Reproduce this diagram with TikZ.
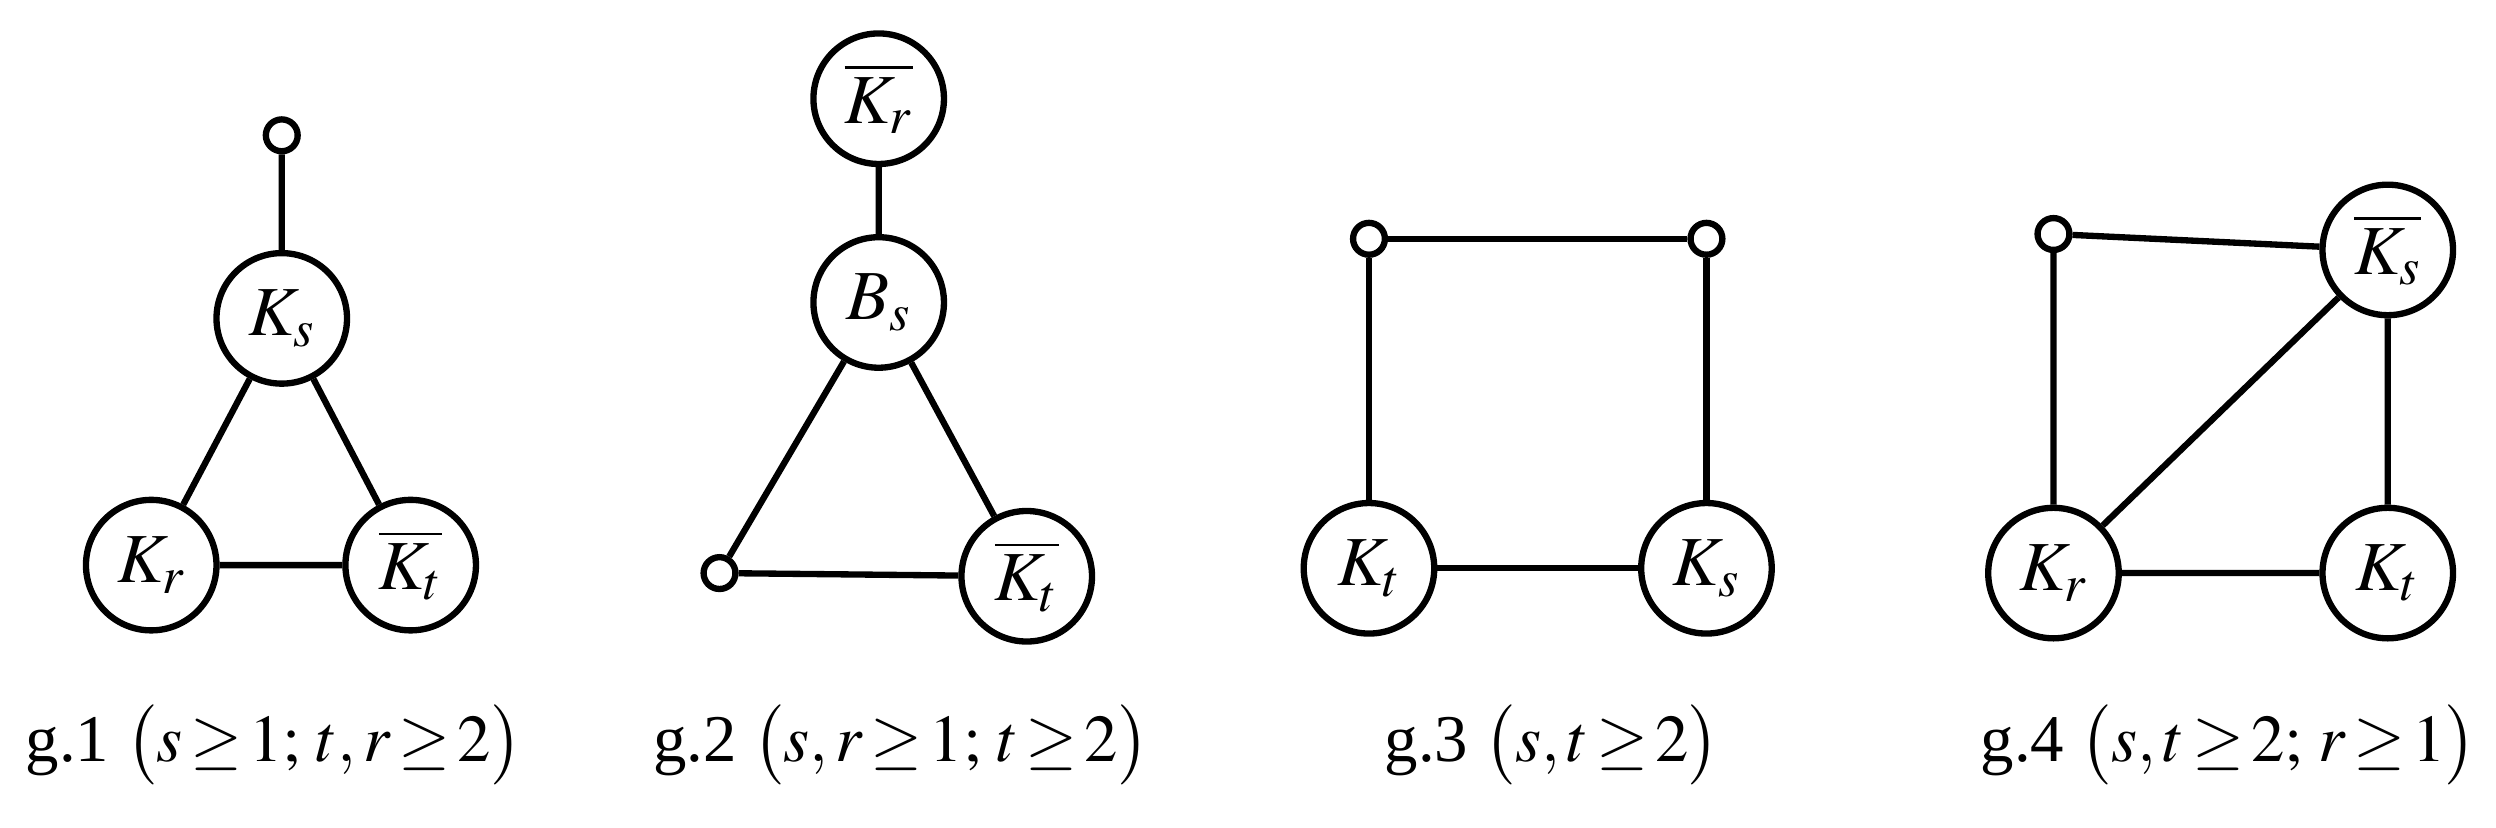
\documentclass[tikz,border=0pt]{standalone}
\usepackage{mathptmx}
\usepackage{fontspec}
\setmainfont{Liberation Serif}
\newcommand{\myge}{\mathrel{\!\geq\!}}
\begin{document}
\begin{tikzpicture}[x=0.01592cm,y=-0.01592cm,line width=1.8pt,
  big/.style={circle,draw,minimum size=82*0.01592cm,inner sep=0pt,font=\fontsize{20}{24}\selectfont},
  sm/.style={circle,draw,minimum size=20*0.01592cm,inner sep=0pt},
  lab/.style={font=\fontsize{19}{23}\selectfont}]
\useasboundingbox (0,0) rectangle (1568,520);
% g1
\node[sm] (a1) at (177,85) {};
\node[big] (s1) at (177,200) {$K_s$};
\node[big] (r1) at (95,355) {$K_r$};
\node[big] (t1) at (258,355) {$\overline{K_t}$};
\draw (a1)--(s1) (s1)--(r1) (s1)--(t1) (r1)--(t1);
\node[lab] (l1) at (172,468) {g.1 $\bigl(s\myge1;\, t,r\myge2\bigr)$};
% g2
\node[big] (r2) at (552,62) {$\overline{K_r}$};
\node[big] (b2) at (552,190) {$B_s$};
\node[sm] (a2) at (452,360) {};
\node[big] (t2) at (645,362) {$\overline{K_t}$};
\draw (r2)--(b2) (b2)--(a2) (b2)--(t2) (a2)--(t2);
\node[lab] (l2) at (566,468) {g.2 $\bigl(s,r\myge1;\, t\myge2\bigr)$};
% g3
\node[sm] (a3) at (860,150) {};
\node[sm] (b3) at (1072,150) {};
\node[big] (t3) at (860,357) {$K_t$};
\node[big] (s3) at (1072,357) {$K_s$};
\draw (a3)--(b3) (a3)--(t3) (b3)--(s3) (t3)--(s3);
\node[lab] (l3) at (975,468) {g.3 $\bigl(s,t\myge2\bigr)$};
% g4
\node[sm] (a4) at (1290,147) {};
\node[big] (s4) at (1500,157) {$\overline{K_s}$};
\node[big] (r4) at (1290,360) {$K_r$};
\node[big] (t4) at (1500,360) {$K_t$};
\draw (a4)--(s4) (a4)--(r4) (s4)--(r4) (s4)--(t4) (r4)--(t4);
\node[lab] (l4) at (1400,468) {g.4 $\bigl(s,t\myge2;\, r\myge1\bigr)$};
\end{tikzpicture}
\end{document}
